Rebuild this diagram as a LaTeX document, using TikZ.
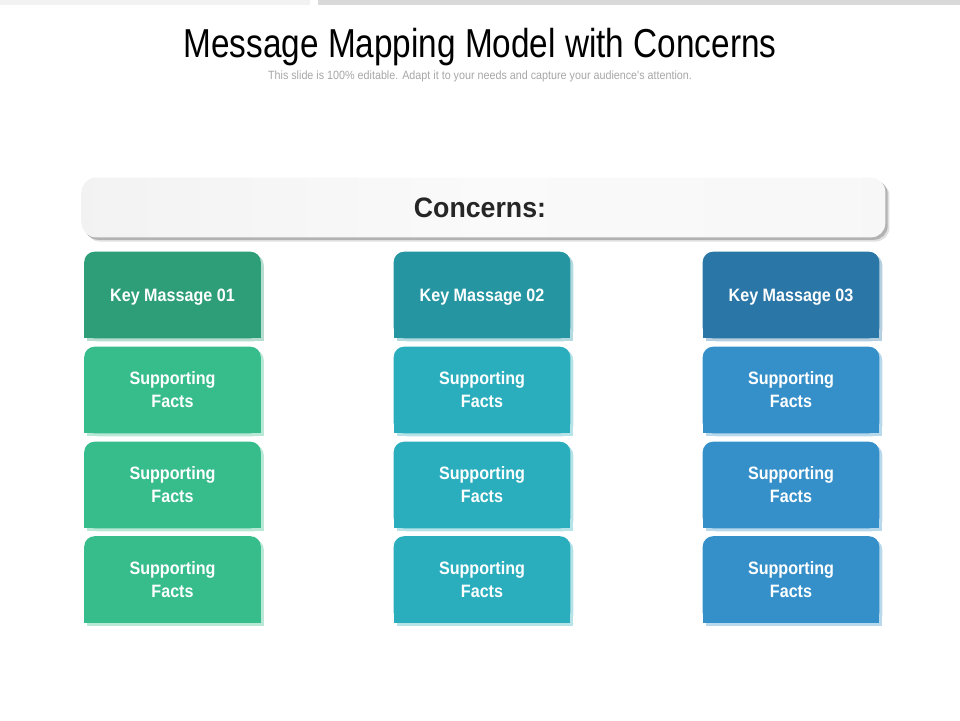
\documentclass[tikz,border=0pt]{standalone}
\usepackage{fontspec}
\setmainfont{Liberation Sans}
\newfontfamily\titlefont{Liberation Sans}[FakeStretch=0.825]
\newfontfamily\barfont{Liberation Sans}[FakeStretch=0.95]
\newfontfamily\boxfont{Liberation Sans}[FakeStretch=0.9]
\usetikzlibrary{backgrounds}

\definecolor{keyA}{HTML}{2E9E78}
\definecolor{factA}{HTML}{37BC8C}
\definecolor{keyB}{HTML}{2596A1}
\definecolor{factB}{HTML}{2AAEBE}
\definecolor{keyC}{HTML}{2A76A6}
\definecolor{factC}{HTML}{3590CA}
\definecolor{inkgray}{HTML}{262626}

\begin{document}
\begin{tikzpicture}[
    x=0.02cm, y=-0.02cm,
    titletext/.style = {anchor=base, inner sep=0pt, font=\titlefont\fontsize{23}{26}\selectfont},
    subtext/.style = {anchor=base, inner sep=0pt, text=black!35, font=\boxfont\fontsize{6.8}{8}\selectfont},
    barbox/.style = {minimum width=16.06cm, minimum height=1.18cm, inner sep=0pt, text=inkgray, font=\barfont\bfseries\fontsize{16}{19}\selectfont},
    keybox/.style = {minimum width=3.52cm, minimum height=1.72cm, inner sep=0pt, align=center, text=white, font=\boxfont\bfseries\fontsize{10.2}{13}\selectfont},
    tabfill/.style = {fill=#1, rounded corners=6pt}
]
\useasboundingbox (0,0) rectangle (960,720);

% strips along the top edge
\fill[black!5] (0,0) rectangle (310,5);
\fill[black!15] (318,0) rectangle (960,5);

\node (title) [titletext] at (480,57) {Message Mapping Model with Concerns};
\node (subtitle) [subtext] at (480,79) {This slide is 100\% editable. Adapt it to your needs and capture your audience's attention.};

\node (concerns) [barbox] at (483.5,207.5) {\hspace*{-4pt}Concerns:};

% column 1
\node (key1) [keybox, text depth=0pt] at (172.5,295) {Key Massage 01};
\node (fact11) [keybox] at (172.5,390) {Supporting\\Facts};
\node (fact12) [keybox] at (172.5,485) {Supporting\\Facts};
\node (fact13) [keybox] at (172.5,579.5) {Supporting\\Facts};

% column 2
\node (key2) [keybox, text depth=0pt] at (482,295) {Key Massage 02};
\node (fact21) [keybox] at (482,390) {Supporting\\Facts};
\node (fact22) [keybox] at (482,485) {Supporting\\Facts};
\node (fact23) [keybox] at (482,579.5) {Supporting\\Facts};

% column 3
\node (key3) [keybox, text depth=0pt] at (791,295) {Key Massage 03};
\node (fact31) [keybox] at (791,390) {Supporting\\Facts};
\node (fact32) [keybox] at (791,485) {Supporting\\Facts};
\node (fact33) [keybox] at (791,579.5) {Supporting\\Facts};

\begin{scope}[on background layer]
% soft shadow under the concerns bar
\fill[black!12, rounded corners=8pt] ([xshift=2.4pt,yshift=-2.4pt]concerns.south west) rectangle ([xshift=2.4pt,yshift=-2.4pt]concerns.north east);
\fill[black!30, rounded corners=8pt] ([xshift=1.4pt,yshift=-1.4pt]concerns.south west) rectangle ([xshift=1.4pt,yshift=-1.4pt]concerns.north east);
\shade[left color=black!5, right color=black!3, middle color=black!2, rounded corners=8pt] (concerns.south west) rectangle (concerns.north east);
% tabs: rounded top, square bottom, pale offset shadow
\foreach \n/\c in {key1/keyA, fact11/factA, fact12/factA, fact13/factA,
                   key2/keyB, fact21/factB, fact22/factB, fact23/factB,
                   key3/keyC, fact31/factC, fact32/factC, fact33/factC} {
  \fill[tabfill=\c!35!white] ([xshift=1.7pt,yshift=-1.7pt]\n.south west) rectangle ([xshift=1.7pt,yshift=-1.7pt]\n.north east);
  \fill[\c!35!white] ([xshift=1.7pt,yshift=-1.7pt]\n.south west) rectangle ([xshift=1.7pt,yshift=-1.7pt]\n.east);
  \fill[tabfill=\c] (\n.south west) rectangle (\n.north east);
  \fill[\c] (\n.south west) rectangle (\n.east);
}
\end{scope}
\end{tikzpicture}
\end{document}
